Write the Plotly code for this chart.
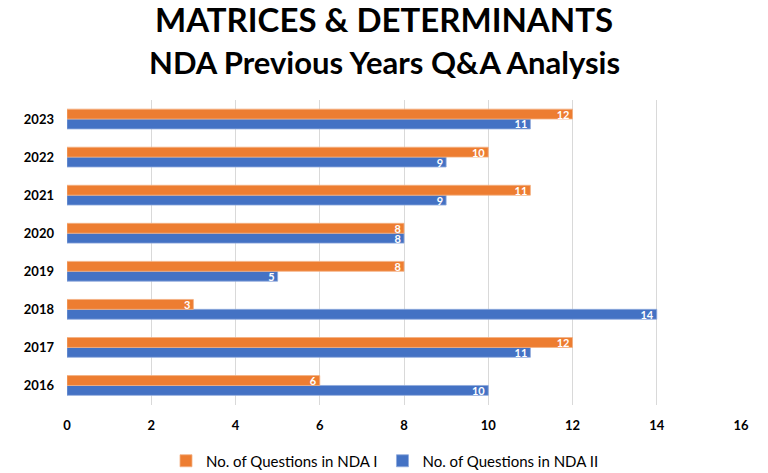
import plotly.graph_objects as go

years = ["2016", "2017", "2018", "2019", "2020", "2021", "2022", "2023"]
nda1 = [6, 12, 3, 8, 8, 11, 10, 12]
nda2 = [10, 11, 14, 5, 8, 9, 9, 11]
x_ticks = [0, 2, 4, 6, 8, 10, 12, 14, 16]
title1 = "MATRICES & DETERMINANTS"
title2 = "NDA Previous Years Q&A Analysis"

FONT = "Lato"
W, H = 768, 473
ML, MR, MT, MB = 67, 27, 100, 64

fig = go.Figure()
fig.add_trace(go.Bar(
    y=years, x=nda2, orientation="h", name="No. of Questions in NDA II",
    marker=dict(color="#4472C4", line=dict(color="#8FAADC", width=0.8)),
    text=[str(v) for v in nda2], textposition="inside", insidetextanchor="end",
    constraintext="none", textangle=0,
    textfont=dict(family=FONT, size=11, color="white", weight="bold"),
    legendrank=2,
))
fig.add_trace(go.Bar(
    y=years, x=nda1, orientation="h", name="No. of Questions in NDA I",
    marker=dict(color="#ED7D31", line=dict(color="#F4B183", width=0.8)),
    text=[str(v) for v in nda1], textposition="inside", insidetextanchor="end",
    constraintext="none", textangle=0,
    textfont=dict(family=FONT, size=11, color="white", weight="bold"),
    legendrank=1,
))

ph = H - MT - MB
def py(p):
    return (H - MB - p) / ph

fig.update_layout(
    width=W, height=H,
    margin=dict(l=ML, r=MR, t=MT, b=MB),
    paper_bgcolor="white", plot_bgcolor="white",
    barmode="group", bargap=0.48, bargroupgap=0,
    font=dict(family=FONT, color="black"),
    showlegend=True,
    legend=dict(orientation="h", xref="container", yref="container",
                x=385 / W, xanchor="center", y=1 - 461 / H, yanchor="middle",
                font=dict(family=FONT, size=15, color="black"),
                itemwidth=30, traceorder="normal"),
    xaxis=dict(range=[0, 16], tickvals=x_ticks, ticktext=[str(t) for t in x_ticks],
               showgrid=True, gridcolor="#D9D9D9", gridwidth=1,
               zeroline=False, showline=False, ticks="",
               tickfont=dict(family=FONT, size=13, color="black", weight="bold"),
               ticklabelstandoff=11, fixedrange=True),
    yaxis=dict(categoryorder="array", categoryarray=years,
               showgrid=False, zeroline=False, showline=False, ticks="",
               tickfont=dict(family=FONT, size=13, color="black", weight="bold"),
               ticklabelstandoff=12, fixedrange=True),
    annotations=[
        dict(text="<b>%s</b>" % title1, xref="paper", yref="paper",
             x=(383.5 - ML) / (W - ML - MR), y=py(18), xanchor="center", yanchor="middle",
             showarrow=False, font=dict(family=FONT, size=33, color="black")),
        dict(text="<b>%s</b>" % title2, xref="paper", yref="paper",
             x=(384 - ML) / (W - ML - MR), y=py(61), xanchor="center", yanchor="middle",
             showarrow=False, font=dict(family=FONT, size=31, color="black")),
    ],
)

fig.write_html("out.html")
